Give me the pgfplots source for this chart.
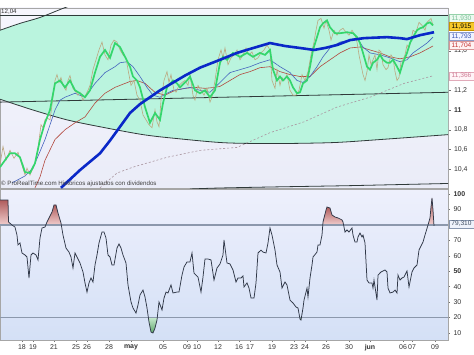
\documentclass[border=0pt]{standalone}
\usepackage{fontspec}
\setmainfont{Liberation Sans}
\usepackage{pgfplots}
\pgfplotsset{compat=1.18}
\definecolor{aqua}{RGB}{186,244,222}
\definecolor{bgtop}{RGB}{246,246,253}
\definecolor{bgbot}{RGB}{234,236,248}
\definecolor{lbgtop}{RGB}{238,240,252}
\definecolor{lbgbot}{RGB}{212,224,246}
\definecolor{greenline}{RGB}{52,214,108}
\definecolor{tanline}{RGB}{188,168,128}
\definecolor{thinblue}{RGB}{70,100,190}
\definecolor{redline}{RGB}{178,72,62}
\definecolor{thickblue}{RGB}{10,40,200}
\definecolor{dashline}{RGB}{170,150,160}
\definecolor{chan}{RGB}{48,58,58}
\definecolor{oscline}{RGB}{48,56,72}
\definecolor{lvl}{RGB}{140,152,172}
\pgfplotsset{
  panel/.style={scale only axis, width=448bp, xmin=0, xmax=448,
    axis line style={draw=black!35},
    ytick pos=right, yticklabel pos=right, tick align=outside,
    major tick length=2.5bp, tick style={black!55, line width=0.4pt},
    ticklabel style={font=\fontsize{7}{8}\selectfont, text=black!80},
    /pgf/number format/assume math mode=true, clip=true}
}
\tikzset{
  vbox/.style={inner sep=0.4bp, minimum width=25bp, minimum height=7.8bp,
    font=\fontsize{6.6}{7}\selectfont, line width=0.4pt, anchor=center}
}
\begin{document}
\begin{tikzpicture}
\path[use as bounding box] (0,0) rectangle (474bp,-355bp);
% ---------------- upper price panel ----------------
\begin{axis}[panel, at={(0bp,-8bp)}, anchor=north west, height=180bp,
  ymin=10.208, ymax=12.036, xtick=\empty,
  ytick={10.4,10.6,10.8,11,11.2,11.6},
  yticklabels={{10,4},{10,6},{10,8},\textbf{11},{11,2},{11,6}},
  axis background/.style={top color=bgtop, bottom color=bgbot}]
% channel fill
\addplot[draw=none, fill=aqua] coordinates {
 (0,11.81) (20,11.88) (40,11.94) (47,11.965) (448,11.965) (448,10.75)
 (380,10.70) (335,10.67) (287,10.66) (253,10.66) (220,10.67) (177,10.71)
 (143,10.75) (100,10.83) (67,10.90) (33,11.00) (0,11.11)} -- cycle;
% channel lines
\addplot[chan, line width=0.8bp, smooth] coordinates {(0,11.81) (20,11.88) (40,11.94) (65,12.04) (80,12.09) (100,12.16)};
\addplot[chan, line width=0.8bp] coordinates {(0,11.965) (448,11.965)};
\addplot[chan, line width=0.8bp] coordinates {(0,11.08) (448,11.18)};
\addplot[chan, line width=0.8bp, smooth] coordinates {(0,11.11) (33,11.00) (67,10.90) (100,10.83) (143,10.75) (177,10.71) (220,10.67) (253,10.66) (287,10.66) (335,10.67) (380,10.70) (448,10.75)};
\addplot[chan, line width=0.8bp, smooth] coordinates {(190,10.198) (220,10.208) (280,10.22) (350,10.232) (448,10.254)};
% long average (dashed)
\addplot[dashline, line width=0.6bp, dash pattern=on 2bp off 2bp] coordinates {
 (100,10.21) (117,10.36) (133,10.42) (167,10.52) (200,10.59) (237,10.62) (270,10.77) (304,10.88) (337,11.03) (370,11.13) (404,11.27) (434,11.35)};
% red average
\addplot[redline, line width=0.6bp] coordinates {
 (35,10.21) (40,10.32) (45,10.49) (55,10.70) (65,10.80) (75,10.87) (85,10.93) (95,11.07) (105,11.17) (115,11.23) (120,11.25) (130,11.29) (137,11.30) (145,11.27) (155,11.18) (165,11.15) (175,11.20) (185,11.22) (195,11.23) (205,11.22) (215,11.23) (220,11.24) (230,11.30) (240,11.36) (250,11.39) (260,11.43) (270,11.44) (280,11.39) (290,11.36) (300,11.34) (310,11.34) (320,11.44) (330,11.51) (340,11.58) (350,11.63) (360,11.64) (370,11.61) (380,11.58) (390,11.54) (400,11.52) (410,11.54) (420,11.58) (433,11.65)};
% thin blue average
\addplot[thinblue, line width=0.6bp] coordinates {
 (12,10.26) (25,10.33) (33,10.41) (45,10.70) (55,11.00) (60,11.10) (65,11.13) (75,11.17) (85,11.13) (95,11.27) (105,11.38) (115,11.44) (120,11.48) (127,11.49) (133,11.44) (140,11.34) (147,11.23) (153,11.15) (160,11.13) (167,11.17) (173,11.20) (180,11.21) (190,11.23) (200,11.20) (210,11.18) (220,11.28) (230,11.38) (240,11.41) (250,11.44) (260,11.48) (270,11.51) (280,11.44) (290,11.38) (297,11.30) (303,11.28) (310,11.34) (317,11.44) (323,11.54) (330,11.63) (340,11.69) (350,11.71) (357,11.73) (363,11.64) (370,11.58) (380,11.56) (390,11.53) (400,11.49) (407,11.51) (413,11.58) (420,11.63) (427,11.68) (433,11.74)};
% raw price (thin tan)
\addplot[tanline, line width=0.6bp] coordinates {
 (0,10.44) (3,10.63) (6,10.49) (10,10.59) (14,10.51) (18,10.57) (22,10.44) (25,10.34) (27,10.41) (30,10.34) (33,10.41) (36,10.49) (38,10.61) (41,10.85) (43,10.82) (45,10.90) (47,10.92) (50,10.90) (52,11.05) (55,11.30) (57,11.36) (59,11.28) (61,11.33) (63,11.25) (66,11.20) (68,11.30) (70,11.35) (73,11.22) (76,11.18) (78,11.15) (80,11.18) (83,11.10) (85,11.14) (88,11.20) (90,11.25) (93,11.41) (96,11.51) (99,11.61) (102,11.69) (105,11.56) (108,11.51) (111,11.66) (114,11.71) (117,11.69) (120,11.61) (123,11.56) (126,11.53) (128,11.41) (131,11.25) (134,11.30) (137,11.15) (140,11.10) (143,10.95) (146,10.90) (149,10.85) (152,10.82) (155,11.00) (157,10.88) (159,10.83) (161,11.10) (164,11.30) (167,11.39) (169,11.28) (171,11.36) (174,11.20) (176,11.18) (179,11.25) (182,11.28) (185,11.30) (188,11.25) (190,11.36) (193,11.15) (195,11.10) (198,11.25) (201,11.20) (204,11.15) (207,11.22) (210,11.08) (212,11.13) (215,11.30) (218,11.51) (221,11.61) (223,11.53) (225,11.63) (228,11.46) (231,11.53) (234,11.56) (237,11.61) (240,11.51) (243,11.56) (246,11.63) (249,11.56) (252,11.59) (255,11.51) (258,11.53) (261,11.58) (264,11.61) (267,11.66) (270,11.61) (272,11.30) (275,11.22) (277,11.41) (280,11.25) (282,11.33) (284,11.30) (287,11.36) (290,11.20) (293,11.15) (296,11.15) (299,11.20) (302,11.36) (305,11.30) (308,11.39) (311,11.56) (314,11.69) (316,11.81) (318,11.91) (321,11.93) (324,11.83) (326,11.91) (329,11.81) (331,11.71) (334,11.81) (337,11.76) (340,11.81) (343,11.83) (346,11.79) (349,11.76) (352,11.81) (355,11.76) (357,11.69) (359,11.56) (361,11.46) (363,11.36) (365,11.30) (367,11.39) (369,11.56) (371,11.46) (373,11.51) (375,11.56) (377,11.41) (379,11.61) (381,11.59) (383,11.46) (386,11.41) (388,11.43) (391,11.56) (393,11.53) (395,11.39) (397,11.30) (399,11.33) (401,11.49) (403,11.51) (405,11.56) (407,11.66) (409,11.63) (411,11.71) (413,11.81) (416,11.79) (419,11.89) (422,11.86) (425,11.81) (427,11.89) (429,11.91) (431,11.93) (433,11.86)};
% smoothed price (thick green)
\addplot[greenline, line width=1.7bp] coordinates {
 (0,10.42) (5,10.49) (10,10.56) (15,10.56) (20,10.52) (25,10.37) (30,10.36) (35,10.46) (40,10.70) (45,10.87) (50,11.00) (55,11.27) (60,11.30) (65,11.23) (70,11.30) (75,11.20) (80,11.17) (85,11.13) (90,11.20) (95,11.38) (100,11.54) (105,11.61) (110,11.53) (115,11.68) (120,11.64) (125,11.54) (130,11.44) (133,11.34) (137,11.30) (140,11.23) (145,11.03) (150,10.87) (155,10.97) (160,10.90) (163,11.07) (167,11.23) (173,11.30) (177,11.27) (180,11.23) (187,11.30) (190,11.34) (195,11.20) (200,11.17) (205,11.20) (210,11.13) (215,11.20) (220,11.48) (223,11.54) (227,11.51) (233,11.58) (240,11.54) (247,11.58) (253,11.54) (260,11.58) (265,11.56) (270,11.61) (273,11.41) (277,11.30) (280,11.34) (283,11.30) (287,11.34) (290,11.30) (293,11.23) (297,11.17) (300,11.18) (303,11.27) (307,11.30) (310,11.44) (313,11.61) (317,11.74) (320,11.84) (323,11.88) (327,11.91) (330,11.84) (335,11.78) (340,11.78) (347,11.79) (353,11.78) (357,11.74) (360,11.68) (363,11.58) (367,11.44) (370,11.41) (373,11.48) (377,11.51) (380,11.56) (383,11.51) (387,11.48) (390,11.48) (393,11.51) (397,11.44) (400,11.38) (403,11.48) (407,11.58) (410,11.68) (413,11.74) (417,11.81) (420,11.83) (423,11.84) (427,11.88) (430,11.89) (433,11.86)};
% long trend (thick blue)
\addplot[thickblue, line width=2.6bp] coordinates {
 (61,10.21) (80,10.39) (100,10.56) (110,10.69) (120,10.83) (130,10.97) (140,11.06) (150,11.13) (160,11.20) (170,11.26) (185,11.35) (200,11.43) (220,11.51) (237,11.58) (250,11.62) (270,11.68) (285,11.65) (300,11.63) (314,11.61) (325,11.63) (337,11.66) (350,11.71) (364,11.73) (387,11.74) (400,11.73) (407,11.72) (420,11.76) (434,11.79)};
\end{axis}
% ---------------- lower oscillator panel ----------------
\begin{axis}[panel, at={(0bp,-189bp)}, anchor=north west, height=151bp,
  ymin=5.44, ymax=103.24,
  ytick={10,20,30,40,50,60,70,90,100},
  yticklabels={10,20,30,40,\textbf{50},60,70,90,\textbf{100}},
  xtick pos=bottom, major tick length=2bp,
  xtick={22,33,54,76,87,109,131,163,187,197,218,239,250,272,294,305,326,349,370,403,412,435},
  xticklabels={18,19,21,25,26,28,\textbf{may},05,09,10,12,16,17,19,23,24,26,30,\textbf{jun},06,07,09},
  xticklabel style={yshift=1bp},
  axis background/.style={top color=lbgtop, bottom color=lbgbot}]
% overbought fills
\addplot[draw=none, top color={rgb,255:red,176;green,92;blue,92}, bottom color={rgb,255:red,240;green,205;blue,205}] coordinates {(0,80) (0,96.1) (8,96.1) (8.5,81.9) (11.8,80)} -- cycle;
\addplot[draw=none, top color={rgb,255:red,176;green,92;blue,92}, bottom color={rgb,255:red,240;green,205;blue,205}] coordinates {(45.9,80) (47,81.9) (49,84.5) (52,88.3) (54,92.9) (56,92.9) (58,87.7) (61,81.2) (61.3,80)} -- cycle;
\addplot[draw=none, top color={rgb,255:red,176;green,92;blue,92}, bottom color={rgb,255:red,240;green,205;blue,205}] coordinates {(322.8,80) (323,81.9) (326,89.6) (327,91.6) (330,90.9) (332,86.4) (335,85.1) (338,84.5) (342,83.2) (343,81.9) (343.6,80)} -- cycle;
\addplot[draw=none, top color={rgb,255:red,176;green,92;blue,92}, bottom color={rgb,255:red,240;green,205;blue,205}] coordinates {(428.1,80) (430,84.5) (431,91.6) (432,97.4) (433,89.6) (434,80)} -- cycle;
% oversold fills
\addplot[draw=none, top color={rgb,255:red,196;green,232;blue,204}, bottom color={rgb,255:red,96;green,168;blue,108}] coordinates {(148.4,20) (149,17.1) (151,10.6) (153,10.0) (155,13.2) (157,18.4) (157.3,20)} -- cycle;
\addplot[draw=none, fill={rgb,255:red,150;green,205;blue,160}] coordinates {(299.7,20) (300,19.0) (301,18.4) (301.4,20)} -- cycle;
% levels
\addplot[lvl, line width=1.3bp] coordinates {(0,80) (448,80)};
\addplot[lvl, line width=1.3bp] coordinates {(0,20) (448,20)};
% oscillator
\addplot[oscline, line width=0.75bp] coordinates {
 (0,96.1) (8,96.1) (8.5,81.9) (12,79.9) (15,78.6) (17,73.4) (18,67.0) (20,68.3) (22,61.8) (25,60.5) (27,59.2) (29,45.6) (31,60.5) (33,61.8) (36,60.5) (38,57.3) (40,71.5) (42,78.0) (45,78.6) (47,81.9) (49,84.5) (52,88.3) (54,92.9) (56,92.9) (58,87.7) (61,81.2) (63,73.4) (66,65.0) (69,62.4) (71,59.2) (73,52.1) (75,61.8) (77,59.2) (80,55.3) (83,49.5) (85,42.4) (87,36.5) (89,42.4) (91,45.6) (93,43.0) (95,54.0) (97,60.5) (99,68.3) (102,75.4) (104,75.4) (106,71.5) (108,60.5) (110,59.2) (112,54.0) (114,54.0) (117,65.0) (119,67.6) (121,65.0) (123,60.5) (126,55.3) (128,41.1) (131,30.1) (133,26.2) (136,22.9) (138,28.1) (140,34.6) (143,37.8) (145,33.3) (147,26.2) (149,17.1) (151,10.6) (153,10.0) (155,13.2) (157,18.4) (159,30.1) (162,24.9) (164,32.6) (166,36.5) (168,35.9) (171,41.1) (173,35.9) (177,36.5) (179,36.5) (182,47.5) (184,52.7) (187,56.0) (190,56.0) (192,61.8) (194,48.8) (198,46.2) (201,36.5) (203,46.2) (205,57.9) (208,57.9) (211,57.3) (214,44.3) (217,52.1) (220,54.7) (223,60.5) (224,70.2) (227,55.3) (230,54.7) (233,50.8) (236,43.0) (238,45.6) (241,45.6) (243,46.9) (244,39.8) (247,42.4) (249,39.1) (251,32.6) (254,32.6) (256,42.4) (258,61.8) (261,63.7) (263,62.4) (266,61.8) (268,68.3) (270,78.0) (272,73.4) (275,63.7) (277,54.0) (280,49.5) (282,39.1) (285,43.0) (287,41.1) (290,31.3) (293,29.4) (296,26.8) (298,26.2) (300,19.0) (301,18.4) (303,26.2) (304,31.3) (307,39.1) (308,33.3) (310,45.6) (312,54.0) (313,59.2) (317,62.4) (318,67.0) (320,67.0) (322,73.4) (323,81.9) (326,89.6) (327,91.6) (330,90.9) (332,86.4) (335,85.1) (338,84.5) (342,83.2) (343,81.9) (345,75.4) (347,76.7) (349,75.4) (352,78.0) (353,73.4) (355,68.9) (357,68.9) (358,72.2) (360,74.7) (362,72.2) (363,73.4) (365,68.3) (367,44.3) (369,42.4) (372,42.4) (373,39.1) (374,44.3) (377,31.3) (378,47.5) (381,49.5) (385,50.8) (387,49.5) (388,39.1) (390,35.9) (393,36.5) (395,37.8) (397,35.9) (398,47.5) (400,44.3) (402,45.6) (404,46.2) (407,50.1) (409,39.8) (412,49.5) (414,52.1) (417,54.0) (419,63.7) (423,68.9) (425,73.4) (428,79.9) (430,84.5) (431,91.6) (432,97.4) (433,89.6) (434,79.31)};
\end{axis}
% ---------------- texts and value boxes ----------------
\node[anchor=west, inner sep=0, font=\fontsize{6.2}{7}\selectfont, text=black!80] at (1bp,-12bp) {12,04};
\node[anchor=west, inner sep=0, font=\fontsize{6.2}{7}\selectfont, text=black!75] at (1bp,-184bp) {© ProRealTime.com Históricos ajustados con dividendos};
\node[vbox, draw={rgb,255:red,150;green,210;blue,170}, fill={rgb,255:red,236;green,250;blue,240}, text={rgb,255:red,120;green,190;blue,150}] at (461.5bp,-18.5bp) {11,930};
\node[vbox, draw={rgb,255:red,200;green,150;blue,0}, fill={rgb,255:red,246;green,200;blue,40}, text=black] at (461.5bp,-26.5bp) {11,915};
\node[vbox, draw={rgb,255:red,140;green,155;blue,200}, fill={rgb,255:red,240;green,243;blue,255}, text={rgb,255:red,50;green,80;blue,180}] at (461.5bp,-36.3bp) {11,793};
\node[vbox, draw={rgb,255:red,215;green,150;blue,150}, fill={rgb,255:red,255;green,242;blue,242}, text={rgb,255:red,195;green,50;blue,50}] at (461.5bp,-45.3bp) {11,704};
\node[vbox, draw={rgb,255:red,225;green,170;blue,185}, fill={rgb,255:red,255;green,244;blue,247}, text={rgb,255:red,205;green,120;blue,145}] at (461.5bp,-76bp) {11,366};
\node[vbox, draw={rgb,255:red,135;green,150;blue,175}, fill={rgb,255:red,238;green,242;blue,251}, text={rgb,255:red,60;green,75;blue,95}] at (461.5bp,-224bp) {79,310};
\end{tikzpicture}
\end{document}
